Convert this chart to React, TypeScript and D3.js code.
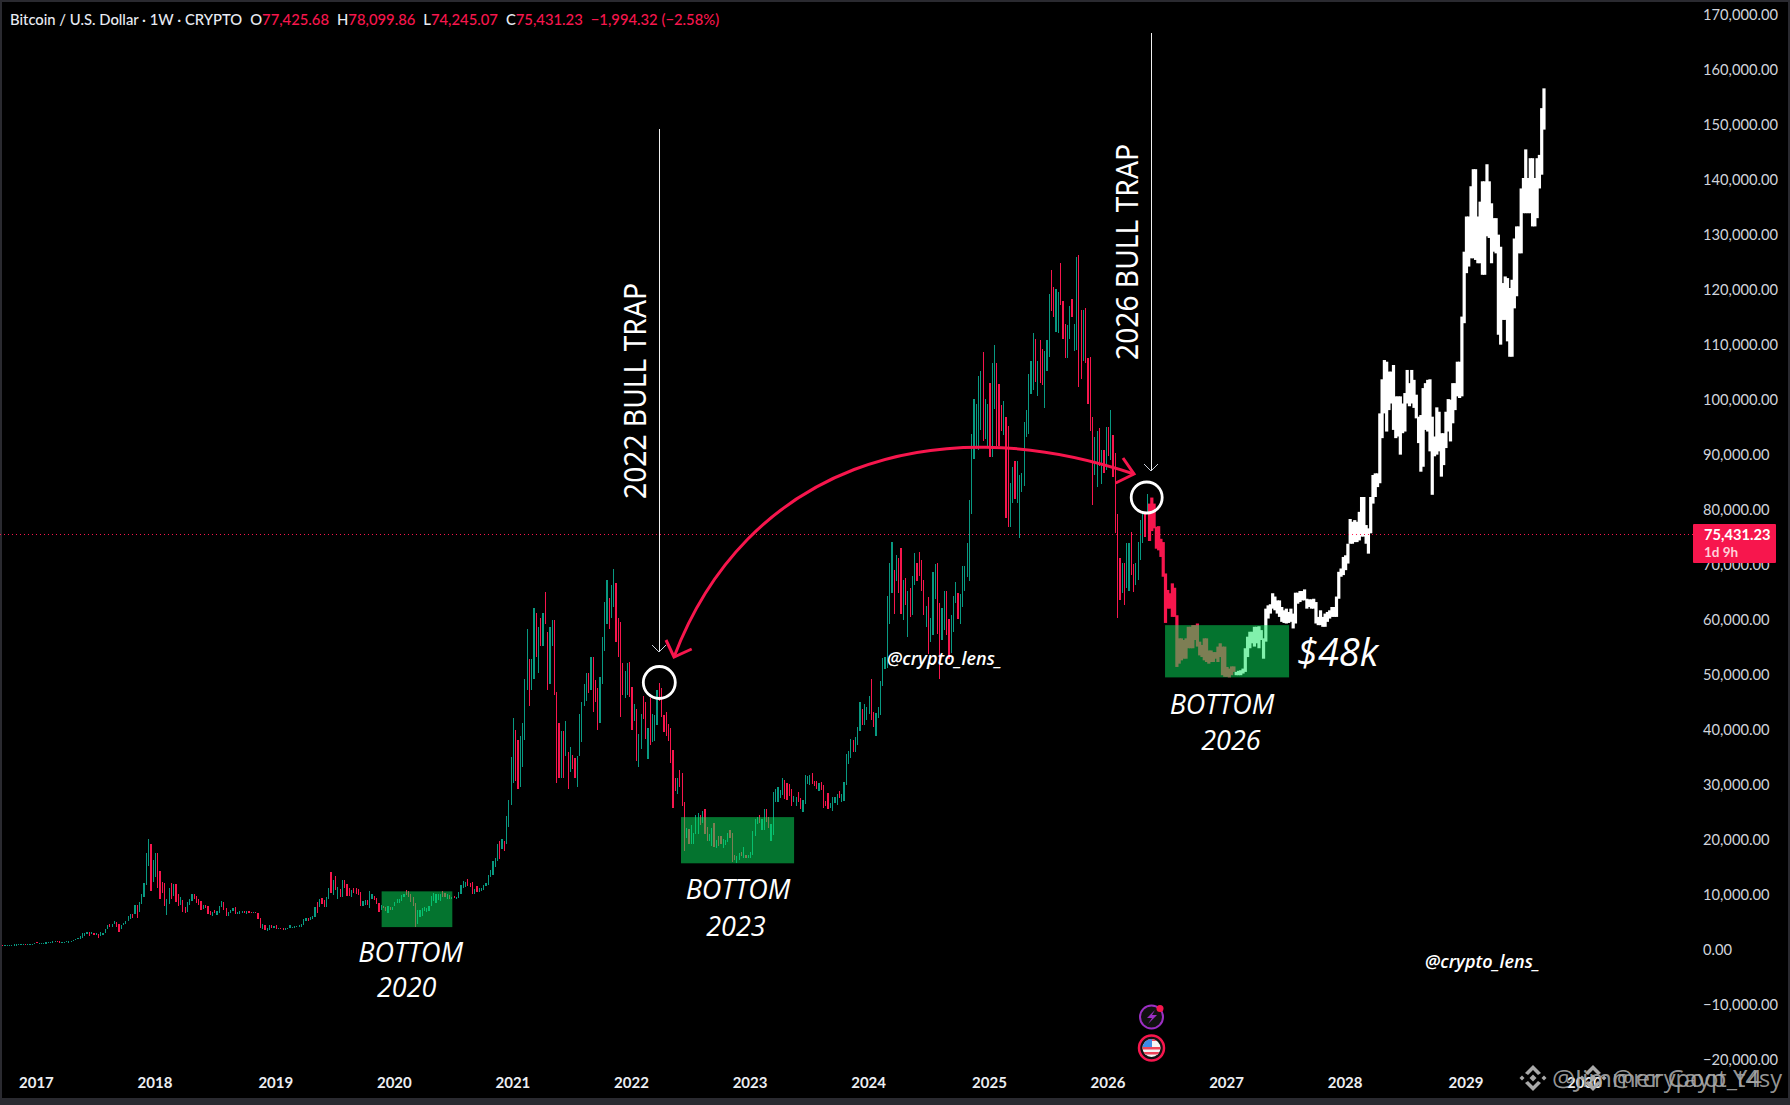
import React from "react";
import * as d3 from "d3";

// each weekly bar: [low, high, up(1)/down(0)] in thousands of USD
type Bar = [number, number, number];

const bars2016: Bar[] = [[.57,.62,0],[.60,.61,1],[.60,.61,1],[.60,.62,1],[.61,.63,1],[.61,.64,1],[.62,.66,1],[.63,.71,1],[.64,.74,1],[.68,.74,1],[.70,.75,0],[.70,.78,1],[.72,.79,1],[.73,.80,1],[.78,.98,1]];
const bars2017: Bar[] = [[.90,1.15,0],[.75,.91,1],[.82,.92,1],[.88,.92,1],[.91,1.03,1],[.95,1.07,1],[.98,1.05,1],[1.04,1.20,1],[1.15,1.30,1],[1.10,1.33,0],[1.0,1.25,0],[.89,1.09,1],[1.0,1.11,1],[1.10,1.22,1],[1.15,1.2,1],[1.19,1.27,1],[1.25,1.42,1],[1.4,1.65,1],[1.6,1.85,1],[1.7,2.1,1],[1.9,2.7,1],[2.1,2.8,1],[2.5,3.0,1],[2.1,3.0,0],[2.5,2.9,1],[2.3,2.7,0],[2.4,2.8,1],[1.9,2.6,0],[2.2,2.9,1],[2.4,2.8,1],[2.7,3.4,1],[3.4,4.2,1],[3.9,4.4,0],[3.9,4.4,1],[4.3,5.0,1],[3.9,4.7,0],[3.0,4.3,0],[3.5,4.1,1],[4.1,4.5,1],[4.4,4.9,1],[4.9,5.9,1],[5.2,6.2,1],[5.4,6.2,0],[6.1,7.9,1],[5.5,7.8,0],[6.5,8.3,1],[8.0,9.9,1],[9.2,11.8,1],[11.5,17.2,1],[15,19.8,1],[10.4,19,0],[12,16,1]];
const bars2018: Bar[] = [[13,17.2,1],[11,17.3,0],[9,14,0],[10,12,0],[7.7,11.8,0],[6,9,1],[8,11,1],[9,11.8,0],[9.5,11.7,1],[8.3,11.7,0],[7.6,9.9,0],[7.8,9.2,1],[6.6,8.7,0],[6.4,7.5,0],[6.6,8.4,1],[7.8,9.0,1],[8.6,9.8,1],[8.9,9.9,0],[8.2,9.5,0],[7.9,8.9,0],[7.0,8.6,0],[7.1,7.8,1],[7.3,7.8,0],[6.2,7.7,0],[6.0,6.8,0],[5.8,6.6,1],[6.3,6.9,0],[6.0,6.8,1],[6.3,7.6,1],[7.4,8.5,1],[6.9,8.3,0],[5.9,7.2,0],[5.9,6.6,1],[6.3,6.9,1],[6.7,7.3,1],[6.1,7.4,0],[6.2,6.6,1],[6.1,6.8,1],[6.4,6.8,1],[6.4,6.7,0],[6.1,6.7,1],[6.4,6.7,0],[6.4,6.6,0],[6.3,6.5,1],[6.3,6.5,0],[5.2,6.4,0],[3.6,5.5,0],[3.5,4.4,1],[3.2,4.2,0],[3.1,3.6,1],[3.2,4.2,1],[3.6,4.2,0],[3.6,4.0,1]];
const bars2019: Bar[] = [[3.4,4.1,0],[3.5,3.7,1],[3.4,3.7,0],[3.3,3.6,0],[3.3,3.7,1],[3.5,3.7,1],[3.6,4.2,1],[3.7,3.9,1],[3.7,4.0,1],[3.8,4.0,1],[3.9,4.1,1],[3.9,4.3,1],[4.1,5.3,1],[4.9,5.5,1],[5.0,5.4,0],[5.1,5.6,1],[5.2,5.9,1],[5.6,7.5,1],[6.4,8.3,0],[7.4,8.9,1],[8.0,9.1,0],[7.4,8.8,0],[7.5,9.3,1],[8.9,11.0,1],[10,13.9,0],[9.6,12.4,1],[10.6,13.1,0],[9.0,11.1,1],[9.2,10.7,0],[9.3,12.3,1],[11,12.3,0],[9.5,11.6,0],[9.5,10.9,0],[9.3,10.6,1],[10,11,0],[9.9,10.9,0],[9.6,10.8,0],[7.7,10.1,0],[7.7,8.5,1],[7.8,8.8,1],[7.8,8.7,0],[7.3,10.4,1],[8.9,9.9,1],[8.7,9.5,0],[8.0,9.1,0],[6.5,8.2,0],[6.9,7.9,1],[7.2,7.7,0],[6.8,7.5,0],[6.4,7.6,1],[6.9,7.5,0],[6.9,7.5,1]];
const bars2020: Bar[] = [[7.7,8.4,1],[8.1,9.0,1],[8.2,8.9,1],[8.6,9.6,1],[9.2,9.9,1],[9.7,10.5,0],[9.3,10.3,0],[8.4,9.9,0],[7.6,9.2,0],[3.8,8.2,0],[4.4,6.9,1],[5.7,6.9,1],[5.9,7.2,1],[6.7,7.5,1],[6.5,7.3,1],[6.8,7.7,1],[7.6,9.5,1],[8.5,10.0,1],[8.1,9.9,1],[8.8,9.9,1],[8.6,9.8,1],[9.2,10.4,0],[9.2,10,0],[8.9,9.8,1],[8.9,9.7,0],[8.9,9.3,1],[9.1,9.5,0],[9.0,9.3,1],[9.1,10.2,1],[9.8,11.4,1],[10.9,12.1,1],[11.1,12.0,1],[11.3,12.5,0],[11.1,11.8,0],[9.9,12.0,0],[9.8,10.7,1],[10.2,11.2,0],[10.1,10.9,1],[10.4,11.0,1],[10.5,11.5,1],[11.2,11.8,1],[11.4,13.2,1],[13,14.1,1],[13.2,15.9,1],[14.8,16.4,1],[15.8,18.9,1],[16.2,19.4,0],[18,19.9,1],[17.6,19.4,0],[19,24,1],[22,27,1],[26,34.8,1]];
const bars2021: Bar[] = [[30,41.9,1],[30.4,39.7,0],[28.9,37.8,0],[29.2,38.5,1],[33,40.9,1],[37.9,49,1],[47,58,1],[44,52.6,0],[47,52.6,1],[49,61.8,1],[53,61,0],[50,58.4,1],[55,60,0],[55,61,1],[59,64.8,0],[47,57.5,0],[48,58.4,1],[55,59.6,1],[46,59.6,0],[30,46.6,0],[31,40.9,0],[31,39.5,1],[31,39.4,0],[35,41.3,1],[28.9,35.7,0],[32,36.6,1],[32.6,35.1,0],[31,34.6,0],[29.3,35,1],[35,42.5,1],[37.4,44.7,1],[44,48,1],[45,50,1],[46.4,50,0],[47,52.9,1],[43,52.9,0],[44.7,48.8,0],[39.6,47.3,0],[41,49.2,1],[48,56.5,1],[54,62.9,1],[59,67,1],[58,63.7,0],[60,66,1],[62,69,1],[55.7,66.3,0],[53,60,0],[42,59.2,0],[46,51.9,0],[45.5,50.4,1],[46,51.8,1],[45.7,52,0]];
const bars2022: Bar[] = [[39.6,47.5,0],[41.2,44.4,1],[34,43.5,0],[32.9,38.9,1],[36.2,42.5,1],[41.7,45.8,0],[38,44.7,0],[34.3,40,1],[37,45.4,0],[37.5,42.5,1],[37.6,42.3,1],[40.5,47,1],[44.9,48.2,0],[42,47.2,0],[39.2,42.4,0],[38.5,42.9,0],[37.6,40.8,0],[33.7,40,0],[25.4,36,0],[28.6,31,0],[28,31,1],[29.3,32.4,0],[25.9,31.9,0],[17.6,26.5,0],[20,21.9,1],[19,21.6,0],[19,22.4,1],[18.9,21,1],[20.8,24.2,1],[20.7,24.6,1],[22.4,24.2,0],[22.7,25,1],[20.8,25.2,0],[19.5,22,0],[19.5,20.8,1],[18.5,21.9,1],[18.3,22.8,0],[18.1,19.7,1],[18.5,20.4,0],[19,20.4,0],[18.2,19.9,1],[18.7,19.7,1],[19.2,20.9,1],[20,21.4,0],[15.6,21,0],[16,17,0],[15.5,16.8,1],[16,17.2,1],[16.7,17.4,0],[16.3,18.4,1],[16.4,17,0],[16.3,16.9,1]];
const bars2023: Bar[] = [[16.4,17.4,1],[17,21.3,1],[20.4,23.4,1],[22.5,23.9,1],[22.7,24.2,0],[21.4,23.4,1],[21.4,25.2,1],[23,25.2,0],[21.9,23.9,0],[19.5,22.6,1],[20.6,28.4,1],[26.6,29,1],[26.5,29.2,1],[27.2,28.8,1],[27.8,31,1],[27.1,30.5,0],[27,30,0],[27.7,29.8,0],[25.8,29,0],[26.5,27.6,1],[25.9,27.5,1],[26.5,28.4,0],[25.3,27.3,0],[24.8,27,1],[26.2,31.4,1],[29.8,31.3,1],[29.7,31.5,1],[29.9,31.8,0],[29.5,30.4,0],[29,30.3,0],[28.6,30,1],[28.7,30.2,0],[25.4,29.6,0],[25.8,26.8,0],[25.3,28.1,0],[25.4,26.4,1],[24.9,27.4,1],[26.3,27.4,1],[26,28,1],[27.2,28.6,0],[26.6,28,1],[26.8,30.2,1],[29.6,35.2,1],[33.4,35.9,1],[34.5,38,1],[35.6,37.9,0],[35.6,38.4,1],[37,40.2,1],[39.5,44.7,1],[40.5,43.4,0],[40.6,44.3,1],[41.4,43.8,1]];
const bars2024: Bar[] = [[42.6,45.9,1],[41.5,49,0],[40.2,43,0],[38.5,42.8,1],[41.9,43.9,1],[42.3,48.6,1],[47.7,52.8,1],[50.7,52.9,1],[50.9,64,1],[59,70,1],[64.6,73.8,1],[60.8,68.8,0],[66.8,71.5,1],[64.5,71,0],[60.7,72.8,0],[59.7,66.9,1],[62.4,67.2,0],[56.5,65,1],[60.2,65.5,0],[60.6,67.7,1],[66,71.9,1],[66.7,70,0],[67.6,72,0],[65,70.5,0],[60.5,67,0],[58.4,62.2,1],[53.5,63.8,0],[55.7,60,1],[57,68.4,1],[63.4,69.9,1],[57.1,70,0],[49,62.7,0],[56,61.8,1],[57.8,65,1],[57,64.9,0],[52.5,59.8,0],[53.6,60.6,1],[57.5,64,1],[62.7,66.5,1],[59.8,64.5,0],[58.9,64.4,1],[62,69.5,1],[65,69.5,1],[67.5,73.6,1],[66.8,81.5,1],[79,93.4,1],[89,99.8,1],[90.8,98.9,1],[90.5,104,1],[94.2,105,1],[92.1,108.3,0],[92.5,99.9,1],[91.2,99,1]];
const bars2025: Bar[] = [[89.2,102.7,0],[89.3,106.4,1],[98,109.6,1],[91.2,106.4,0],[91.2,102.5,0],[94,98.8,0],[93.3,99.5,1],[78.2,96.5,0],[76.6,95,0],[76.5,84.5,1],[81,87.4,1],[81.6,88.5,0],[81,88.5,1],[74.5,86,1],[83,86.4,1],[84,95.7,1],[92.9,97.9,1],[93.4,104.3,1],[100.8,106.7,1],[101.5,111.9,1],[103,110.7,0],[100.4,106.8,1],[102.7,110.5,0],[102.3,109,0],[98.2,108.5,1],[105,110.5,1],[107.5,119,1],[115.8,123.2,0],[114.7,120.2,0],[112,119.8,1],[111.9,119.3,1],[117,124.5,0],[110.7,117.7,0],[107.3,113.4,0],[107.3,113.3,1],[110.8,116.7,1],[114.8,118,0],[108.6,113.5,1],[108.7,125.7,1],[102,126,0],[103.5,116,0],[106.7,116,1],[106.3,116.4,0],[98.9,107.3,0],[94,107.5,0],[80.6,96.6,0],[86,92.9,1],[83.8,94,1],[87.6,94.6,0],[84.4,90.6,1],[86.4,90.5,0],[87,94.8,1]];
const bars2026: Bar[] = [[89.5,94.8,0],[88.7,97.9,1],[85.6,93.3,0],[75.5,90,0],[60,79,0],[63.3,71,0],[64.5,70,1],[62.4,70,0],[65.4,73.6,1],[65,73.6,1],[67.8,75.6,0],[64.8,69.8,0],[66,70,1],[67,73.8,1],[70.5,77.8,1],[73.6,79.3,1],[74.7,79.3,0],[79.3,82.5,1]];

// drawn-in projection, as [low, high]
type Leg = [number, number];
const projectedDown: Leg[] = [[74,80.8],[75.8,81.9],[76.3,80.8],[72.6,76.6],[72.3,76.7],[71.1,74.4],[67.5,73.8],[59.1,68.1],[61.7,65.1],[61.7,64.5],[60.2,66.3],[60.2,65.5],[51.1,60.5],[51.7,56.3],[52.3,56.3],[52.6,56],[52.6,56.3],[54.5,58.4],[54.5,58.4],[54.5,58.7],[56,58.7],[54.8,59],[53.2,55.7],[52.9,55.1],[52.3,56.3],[52,56.3],[51.7,54.1],[52,54.1],[52,53.8],[52.6,53.8],[52,54.8],[52.9,55.4],[49.6,54.8],[49.3,54.8],[49.3,51.1],[49.2,50.8],[49.6,51.2],[50.2,51.2]];
const projectedUpA: Leg[] = [[49.6,50.2],[49.6,50.4],[49.6,50.5],[49.9,50.8],[50.2,54.5],[52.9,56.6],[54.5,57.5],[55.4,57.5],[54.8,58.4],[55.4,58.4],[54.5,58.5],[56,57.8],[52.6,56.3],[55.7,61.7],[59.9,62.3],[60.8,62.5],[61.7,64.5],[61.4,63.9],[60.8,63.2],[60.2,63.2],[59.3,62],[59.1,61.4],[59,61.7],[59.1,61.1],[59.3,61.7],[58.1,60.8],[59,64.6],[62.6,64.6],[62.9,64.9],[63.2,64.9],[63.2,65.2],[61.7,63.5],[62,63.4],[61.7,63.4],[61.7,63.5],[59,62.9],[58.7,60.2],[58.7,61.4],[58.4,60.2],[58.4,60.8],[59.3,61.1],[59.9,61.4],[60.2,62],[60.2,62],[60.2,63.9],[63.5,68.4],[67.5,69],[67.8,71.1],[68.7,71.4],[69.9,73.5],[73.5,78],[73.5,77.5],[73.8,77.8],[73.8,77.5],[74.1,79.3],[74.8,82],[74.8,82],[73.5,76.9],[71.7,76.3],[75.4,82],[80.8,86],[82,86.3],[83.8,86.3]];
const projectedUpB: Leg[] = [[84.5,97.2],[92.7,103.4],[97.2,106.9],[93.9,106.6],[97.8,104.8],[99,104.8],[94.2,106],[92.7,100.3],[93,100.3],[89.7,100.3],[93.6,99],[93.9,100.9],[99,105.1],[98.5,102.7],[99,105.1],[98.2,103.3],[96.3,100.6],[91.8,96.6],[86.6,96.9],[87.5,101.8],[94.2,102.7],[93.9,103.3],[90.3,103.4],[82.4,96.6],[89.4,93],[89.7,98.3],[90.3,97.5],[85.7,93.6],[87.8,93.6],[90.9,97.5],[93.9,99.8],[92.1,99.7],[95.4,102.7],[97.8,102.7],[100.3,106.6],[100,106.6],[100.3,114.8],[113.6,126.6],[122.7,133],[123.9,133],[125.4,138.5],[125.4,141.6],[125.1,141.6],[124.5,133],[124.5,135.7],[122.4,139.4],[122.4,139.4],[129.4,142.5],[129.1,139.4],[124.5,135.4],[126.6,132.7],[126.3,132.7],[111.5,129.7],[109.7,127.5],[114.2,120.9],[114.2,122.1],[110.3,121.8],[107.5,120],[107.5,121.5],[116.3,129],[118.5,131.2],[126.3,131.2],[126.3,138.1],[133.6,140],[133.6,145.2],[133.6,140],[133.6,143.6],[131.2,143.6],[131.2,140],[132.7,143.6],[138.1,144.2],[140.6,152.7],[148.8,156.3]];

const yearLabels = ["2017","2018","2019","2020","2021","2022","2023","2024","2025","2026","2027","2028","2029","2030"];
const yearStartIndex = [15,67,120,172,224,276,328,380,433,485,537,589,642,694];
const priceTicks = d3.range(-20, 171, 10);
const lastPrice = 75.43123;
const bottomZones = [
  { name: "2020", from: 166.2, to: 197.2, low: 3.8, high: 10.3, tx: 410.7, ty: 962, dx: -4, gap: 35 },
  { name: "2023", from: 297.5, to: 347.1, low: 15.4, high: 23.8, tx: 738, ty: 898.5, dx: -2, gap: 37 },
  { name: "2026", from: 509.8, to: 564.2, low: 49.2, high: 58.7, tx: 1222, ty: 713.5, dx: 9, gap: 36 },
];

const RED = "#f7164d";
const TEAL = "#089981";
const UI = "'Open Sans', 'Noto Sans', sans-serif";
const HEAD = "Lato, 'Noto Sans', sans-serif";

const x = d3.scaleLinear().domain([0, 676]).range([2.7, 2.7 + 2.28 * 676]);
const y = d3.scaleLinear().domain([0, 160]).range([948, 68]);

const history: Bar[] = [...bars2016, ...bars2017, ...bars2018, ...bars2019, ...bars2020, ...bars2021, ...bars2022, ...bars2023, ...bars2024, ...bars2025, ...bars2026];
const histEnd = history.length;
const downEnd = histEnd + projectedDown.length;

const arc = d3.path();
arc.moveTo(674, 657);
arc.bezierCurveTo(745, 470, 930, 405, 1134, 474);

function Arrow({ tx, top, tip }: { tx: number; top: number; tip: number }) {
  return (
    <g fill="none">
      <line x1={tx} x2={tx} y1={top} y2={tip} stroke="#f0f0f0" strokeWidth={1} shapeRendering="crispEdges" />
      <polyline points={`${tx - 7},${tip - 7} ${tx},${tip} ${tx + 7},${tip - 7}`} stroke="#c8cdd6" strokeWidth={1} />
    </g>
  );
}

function Diamond({ cx, cy }: { cx: number; cy: number }) {
  const c = "#a9a9a9";
  const d = (px: number, py: number, r: number) =>
    <polygon points={`${px},${py - r} ${px + r},${py} ${px},${py + r} ${px - r},${py}`} fill={c} />;
  return (
    <g>
      {d(cx, cy, 3.5)}
      {d(cx - 11, cy, 2.5)}
      {d(cx + 11, cy, 2.5)}
      <path d={`M${cx - 8} ${cy - 5} L${cx} ${cy - 13} L${cx + 8} ${cy - 5} L${cx + 5} ${cy - 3} L${cx} ${cy - 8} L${cx - 5} ${cy - 3} Z`} fill={c} />
      <path d={`M${cx - 8} ${cy + 5} L${cx} ${cy + 13} L${cx + 8} ${cy + 5} L${cx + 5} ${cy + 3} L${cx} ${cy + 8} L${cx - 5} ${cy + 3} Z`} fill={c} />
    </g>
  );
}

export default function App() {
  return (
    <svg width={1790} height={1105} style={{ position: "absolute", left: 0, top: 0, background: "#000" }}>
      <rect width={1790} height={1105} fill="#2a2a30" />
      <rect x={2} y={2} width={1786} height={1096} fill="#000" />

      <g shapeRendering="crispEdges">
        {history.map((b, i) => (
          <rect key={i} x={x(i) - 0.6} width={1.2} y={y(b[1])} height={Math.max(1.2, y(b[0]) - y(b[1]))} fill={b[2] ? TEAL : RED} />
        ))}
      </g>
      {projectedDown.map((b, i) => (
        <rect key={"d" + i} x={x(histEnd + i) - 1.6} width={3.2} y={y(b[1])} height={y(b[0]) - y(b[1])} fill={RED} />
      ))}
      {[...projectedUpA, ...projectedUpB].map((b, i) => (
        <rect key={"u" + i} x={x(downEnd + i) - 1.6} width={3.2} y={y(b[1])} height={y(b[0]) - y(b[1])} fill="#fff" />
      ))}

      {bottomZones.map((z) => (
        <g key={z.name}>
          <rect x={x(z.from)} width={x(z.to) - x(z.from)} y={y(z.high)} height={y(z.low) - y(z.high)} fill="#08e45d" fillOpacity={0.51} />
          <text x={z.tx} y={z.ty} textAnchor="middle" fontFamily={UI} fontStyle="italic" fontSize={27} fill="#fff">BOTTOM</text>
          <text x={z.tx + z.dx} y={z.ty + z.gap} textAnchor="middle" fontFamily={UI} fontStyle="italic" fontSize={27} fill="#fff">{z.name}</text>
        </g>
      ))}

      <line x1={0} x2={1693} y1={y(lastPrice) + 1} y2={y(lastPrice) + 1} stroke={RED} strokeWidth={1} strokeDasharray="1 3" shapeRendering="crispEdges" />

      {priceTicks.map((t) => (
        <text key={t} x={1703} y={y(t) + 6.5} fontFamily={HEAD} fontSize={14.7} fill="#d1d4dc">{d3.format(",.2f")(t * 1000)}</text>
      ))}
      <rect x={1693} y={524} width={83} height={39} rx={1} fill={RED} />
      <text x={1704} y={540} fontFamily={HEAD} fontWeight={700} fontSize={14.7} fill="#fff">{d3.format(",.2f")(lastPrice * 1000)}</text>
      <text x={1704} y={557} fontFamily={HEAD} fontWeight={700} fontSize={13.5} fill="#ffd0da">1d 9h</text>

      {yearLabels.map((l, i) => (
        <text key={l} x={x(yearStartIndex[i]) - 0.5} y={1088} textAnchor="middle" fontFamily={HEAD} fontWeight={700} fontSize={15} fill="#eceef2">{l}</text>
      ))}

      <Diamond cx={1533} cy={1078} />
      <Diamond cx={1593} cy={1078} />
      <text x={1552} y={1087} fontFamily={UI} fontSize={24} fill="#a9a9a9" fillOpacity={0.9} textLength={210} lengthAdjust="spacingAndGlyphs">@Jimmer Cayp Y4</text>
      <text x={1612} y={1087} fontFamily={UI} fontSize={24} fill="#a9a9a9" fillOpacity={0.9} textLength={170} lengthAdjust="spacingAndGlyphs">@rcrypoot_t4sy</text>

      <text x={10} y={25} fontFamily={HEAD} fontSize={14.8} fontWeight={500} fill="#e8ebf2">
        Bitcoin / U.S. Dollar · 1W · CRYPTO
        <tspan dx={8}>O</tspan><tspan fill={RED}>77,425.68</tspan>
        <tspan dx={8}>H</tspan><tspan fill={RED}>78,099.86</tspan>
        <tspan dx={8}>L</tspan><tspan fill={RED}>74,245.07</tspan>
        <tspan dx={8}>C</tspan><tspan fill={RED}>75,431.23</tspan>
        <tspan dx={8} fill={RED}>−1,994.32 (−2.58%)</tspan>
      </text>

      <Arrow tx={659} top={129} tip={652} />
      <Arrow tx={1151} top={33} tip={471} />
      <text transform="translate(646,499) rotate(-90)" fontFamily="'Noto Sans', sans-serif" fontSize={30} fill="#fff" textLength={216} lengthAdjust="spacingAndGlyphs">2022 BULL TRAP</text>
      <text transform="translate(1138,360) rotate(-90)" fontFamily="'Noto Sans', sans-serif" fontSize={30} fill="#fff" textLength={216} lengthAdjust="spacingAndGlyphs">2026 BULL TRAP</text>

      <circle cx={659.3} cy={682.5} r={16} fill="none" stroke="#fff" strokeWidth={2.8} />
      <circle cx={1146.7} cy={497.5} r={15.5} fill="none" stroke="#fff" strokeWidth={2.8} />

      <g fill="none" stroke={RED} strokeWidth={3}>
        <path d={arc.toString()} />
        <polyline points="666,640 674,657 691.7,649" />
        <polyline points="1123,458 1134,474 1115.7,483" />
      </g>

      <text x={1297} y={666} fontFamily={UI} fontStyle="italic" fontWeight={500} fontSize={38} fill="#fff">$48k</text>
      <text x={887} y={665} fontFamily={UI} fontStyle="italic" fontWeight={600} fontSize={18} fill="#fff">@crypto_lens_</text>
      <text x={1425} y={968} fontFamily={UI} fontStyle="italic" fontWeight={600} fontSize={18} fill="#fff">@crypto_lens_</text>

      <circle cx={1151.5} cy={1017} r={11.5} fill="#111" stroke="#9c2fc4" strokeWidth={2} />
      <path d="M1155 1010 L1147 1018 L1152 1018 L1148 1024 L1157 1015 L1152 1015 Z" fill="#9c2fc4" />
      <circle cx={1160} cy={1008.5} r={3.5} fill={RED} />
      <circle cx={1151.5} cy={1048} r={12.5} fill="#111" stroke={RED} strokeWidth={2.5} />
      <clipPath id="flag"><circle cx={1151.5} cy={1048} r={9} /></clipPath>
      <g clipPath="url(#flag)">
        <rect x={1142} y={1039} width={19} height={18} fill="#f4f4f4" />
        <rect x={1142} y={1047} width={19} height={2.5} fill="#ef4358" />
        <rect x={1142} y={1052} width={19} height={2.5} fill="#ef4358" />
        <rect x={1142} y={1039} width={19} height={2} fill="#ef4358" />
        <rect x={1142} y={1039} width={10} height={8} fill="#3d8be8" />
      </g>
    </svg>
  );
}
